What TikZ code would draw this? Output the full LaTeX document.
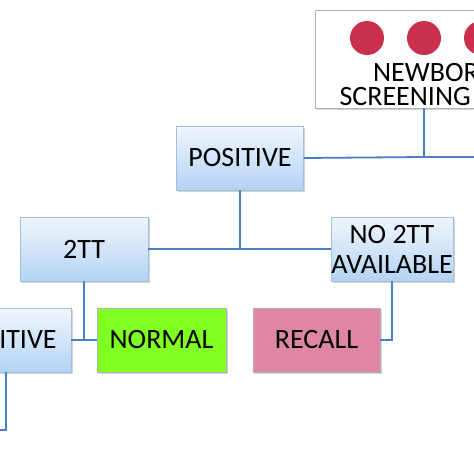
\documentclass[tikz,border=0pt]{standalone}
\usepackage{fontspec}
\setmainfont{Carlito}
\usetikzlibrary{positioning,shadows}
\definecolor{linkblue}{HTML}{4A7DC7}
\definecolor{boxtop}{HTML}{F0F6FD}
\definecolor{boxbot}{HTML}{B3D3F4}
\definecolor{boxline}{HTML}{A3BFDC}
\definecolor{normalgreen}{HTML}{80FF22}
\definecolor{recallpink}{HTML}{DF86A7}
\definecolor{dotred}{HTML}{C9304C}

\begin{document}
\begin{tikzpicture}[x=1pt, y=-1pt,
  every node/.style={font=\fontsize{28}{30}\selectfont, align=center},
  stage/.style={rectangle, draw=boxline, top color=boxtop, bottom color=boxbot,
    minimum height=64pt, inner sep=0pt, drop shadow={shadow xshift=1.5pt, shadow yshift=-2pt, opacity=0.35}},
  result/.style={rectangle, draw=black!30, minimum height=64pt, inner sep=0pt,
    drop shadow={shadow xshift=1.5pt, shadow yshift=-2pt, opacity=0.35}},
  link/.style={draw=linkblue, line width=1.8pt}]
\useasboundingbox (0,0) rectangle (474,474);
\clip (0,0) rectangle (474,474);

% screening box
\node[rectangle, draw=black!30, fill=white, minimum width=240pt, minimum height=98pt, anchor=north west,
  drop shadow={shadow xshift=1.5pt, shadow yshift=-2pt, opacity=0.35}] (nbs) at (315,10) {};
\node[font=\fontsize{28}{24}\selectfont] (nbstext) at (435,85) {NEWBORN\\SCREENING TEST};
\foreach \x/\n in {367/1,424/2,481/3}
  \node[circle, fill=dotred, minimum size=34pt, inner sep=0pt] (dot\n) at (\x,38) {};

% stages
\node[stage, minimum width=127pt] (pos) at (240,158) {POSITIVE};
\node[stage, minimum width=128pt] (tt) at (84,249) {2TT};
\node[stage, minimum width=122pt] (nott) at (392,249) {NO 2TT\\AVAILABLE};
\node[stage, minimum width=132pt] (pos2) at (5,340) {POSITIVE};
\node[result, fill=normalgreen, minimum width=129pt] (normal) at (161.5,340) {NORMAL};
\node[result, fill=recallpink, minimum width=127pt] (recall) at (316.5,340) {RECALL};

% junctions and free ends
\coordinate (j1) at (424,157);
\coordinate (negfree) at (480,157);
\coordinate (j2) at (240,249);
\coordinate (j3) at (84,340);
\coordinate (leftfree) at (-20,430);

\draw[link] (nbs.south -| j1) -- (j1);
\draw[link] (pos.east) -- (j1) -- (negfree);
\draw[link] (pos.south) -- (j2);
\draw[link] (tt.east) -- (nott.west);
\draw[link] (tt.south) -- (j3);
\draw[link] (pos2.east) -- (normal.west);
\draw[link] (nott.south) |- (recall.east);
\draw[link] ([xshift=1pt]pos2.south) |- (leftfree);
\end{tikzpicture}
\end{document}
